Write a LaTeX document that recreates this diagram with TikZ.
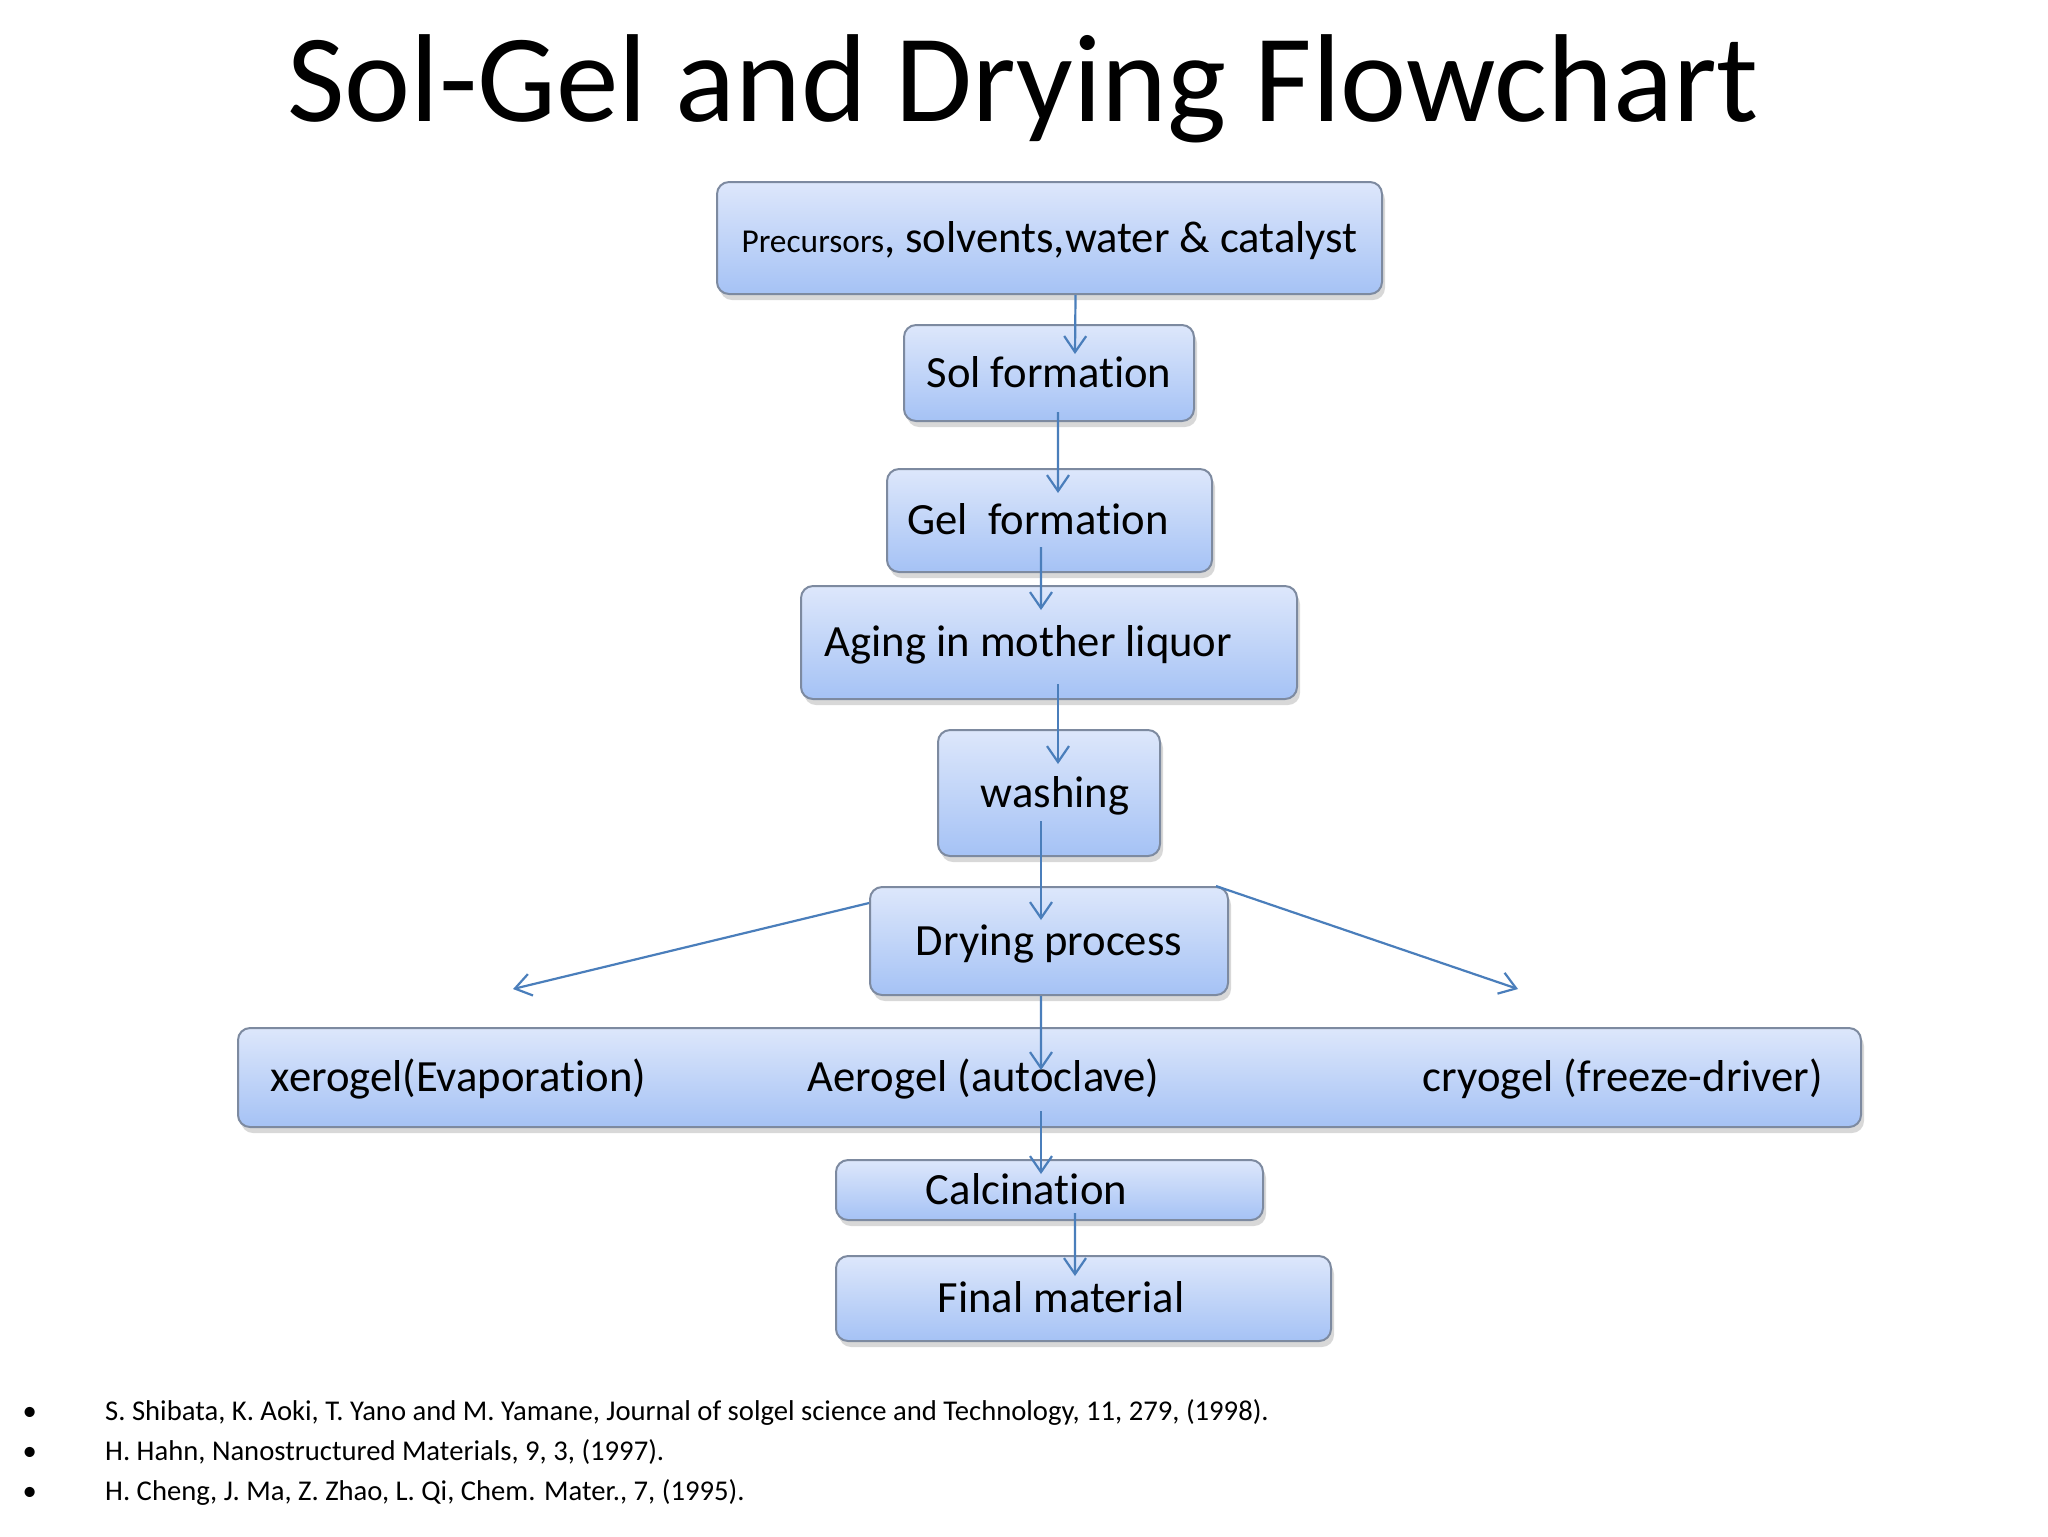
\documentclass[tikz,border=0pt]{standalone}
\usepackage{fontspec}
\setmainfont{Carlito}[Ligatures={NoCommon}]
\usetikzlibrary{positioning,arrows.meta,shadows}
\definecolor{boxtop}{RGB}{221,231,251}
\definecolor{boxbot}{RGB}{165,194,245}
\definecolor{boxline}{RGB}{125,138,160}
\definecolor{flowblue}{RGB}{74,126,187}
\newcommand{\boxfont}{\fontsize{12.7}{15}\selectfont}
\newcommand{\smallfont}{\fontsize{9.5}{11}\selectfont}

\begin{document}
\begin{tikzpicture}[x=0.1mm,y=-0.1mm,>={Straight Barb[length=1.6mm,width=2.2mm]},
  box/.style={draw=boxline,line width=0.2mm,rounded corners=1.2mm,top color=boxtop,bottom color=boxbot,
    drop shadow={shadow xshift=0.3mm,shadow yshift=-0.6mm,opacity=0.3},
    inner sep=0pt,font=\boxfont,text height=8.2pt,text depth=0pt},
  gellabel/.style={inner sep=0pt,font=\boxfont,text height=8.2pt,text depth=0pt},
  flow/.style={draw=flowblue,line width=0.22mm,->},
  ref/.style={anchor=base west,inner sep=0pt,font=\fontsize{8.15}{9.5}\selectfont}]
\path[use as bounding box,fill=white] (0,0) rectangle (2048,1536);

\node[anchor=base,inner sep=0pt,font=\fontsize{35.6}{40}\selectfont] (title) at (1023,121.5) {Sol-Gel and Drying Flowchart};

% process steps
\node[box,minimum width=66.5mm,minimum height=11.2mm] (prec) at (1049.5,238) {{\smallfont Precursors}, solvents,water \& catalyst};
\node[box,minimum width=29mm,minimum height=9.6mm] (sol) at (1049,373) {Sol formation};
\node[box,minimum width=32.5mm,minimum height=10.3mm] (gel) at (1049.5,520.5) {Gel~ formation\hspace*{2.3mm}};
\node[box,minimum width=49.6mm,minimum height=11.3mm] (aging) at (1049,642.5) {Aging in mother liquor\hspace*{4.1mm}};
\node[box,minimum width=22.2mm,minimum height=12.6mm] (wash) at (1049,793) {\hspace*{1.2mm}washing};
\node[box,minimum width=35.8mm,minimum height=10.8mm] (drying) at (1049,941) {Drying process};
\node[box,minimum width=162.3mm,minimum height=9.9mm] (gels) at (1049.5,1077.5) {};
\node[gellabel] (xero) at (458.5,1077.5) {xerogel(Evaporation)};
\node[gellabel] (aero) at (983.5,1077.5) {Aerogel (autoclave)};
\node[gellabel] (cryo) at (1622.8,1077.5) {cryogel (freeze-driver)};
\node[box,minimum width=42.7mm,minimum height=6mm] (calc) at (1049.5,1190) {Calcination\hspace*{4.6mm}};
\node[box,minimum width=49.5mm,minimum height=8.5mm] (final) at (1083.5,1298.5) {Final material\hspace*{4.5mm}};

% connectors
\draw[flow] ([xshift=2.6mm]prec.south) -- ([xshift=2.6mm,yshift=-3mm]sol.north);
\draw[flow] ([xshift=0.9mm,yshift=1mm]sol.south) -- ([xshift=0.85mm,yshift=-2.5mm]gel.north);
\draw[flow] ([xshift=-0.85mm,yshift=2.6mm]gel.south) -- ([xshift=-0.8mm,yshift=-2.5mm]aging.north);
\draw[flow] ([xshift=0.9mm,yshift=1.6mm]aging.south) -- ([xshift=0.9mm,yshift=-3.5mm]wash.north);
\draw[flow] ([xshift=-0.8mm,yshift=3.6mm]wash.south) -- ([xshift=-0.8mm,yshift=-3.4mm]drying.north);
\draw[flow] ([xshift=-0.8mm]drying.south) -- ([xshift=-0.85mm,yshift=-4.3mm]gels.north);
\draw[flow] ([xshift=-0.85mm,yshift=1.7mm]gels.south) -- ([xshift=-0.85mm,yshift=-1.5mm]calc.north);
\draw[flow] ([xshift=2.55mm,yshift=0.8mm]calc.south) -- ([xshift=-0.85mm,yshift=-2.1mm]final.north);
\coordinate (xerotip) at (513,989);
\coordinate (cryotip) at (1518,989);
\draw[flow] ([yshift=-1.7mm]drying.north west) -- (xerotip);
\draw[flow] ([xshift=-1.3mm]drying.north east) -- (cryotip);

% references
\node[ref] (ref1) at (22,1420) {\makebox[8.25mm][l]{•}S. Shibata, K. Aoki, T. Yano and M. Yamane, Journal of solgel science and Technology, 11, 279, (1998).};
\node[ref] (ref2) at (22,1460) {\makebox[8.25mm][l]{•}H. Hahn, Nanostructured Materials, 9, 3, (1997).};
\node[ref] (ref3) at (22,1500) {\makebox[8.25mm][l]{•}H. Cheng, J. Ma, Z. Zhao, L. Qi, Chem. Mater., 7, (1995).};
\end{tikzpicture}
\end{document}
